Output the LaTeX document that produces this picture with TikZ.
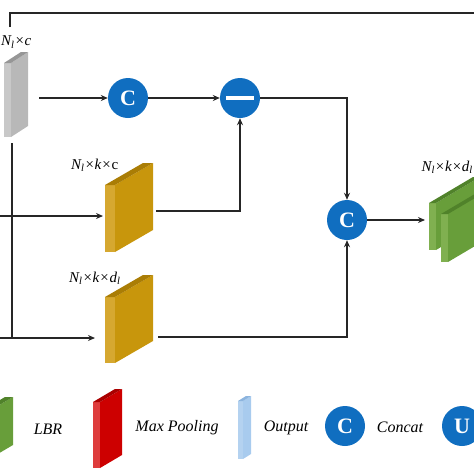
\documentclass[tikz,border=0pt]{standalone}
\usepackage{fontspec}
\setmainfont{Liberation Serif}
\usetikzlibrary{arrows.meta}
\definecolor{opblue}{RGB}{16,110,192}
\definecolor{ystrip}{RGB}{214,168,48}
\definecolor{yface}{RGB}{200,150,12}
\definecolor{ytop}{RGB}{170,125,5}
\definecolor{gstrip}{RGB}{128,176,80}
\definecolor{gface}{RGB}{104,158,58}
\definecolor{gtop}{RGB}{80,130,42}
\definecolor{grstrip}{RGB}{200,200,200}
\definecolor{grface}{RGB}{184,184,184}
\definecolor{grtop}{RGB}{150,150,150}
\definecolor{rstrip}{RGB}{222,60,60}
\definecolor{rface}{RGB}{205,0,0}
\definecolor{rtop}{RGB}{170,0,0}
\definecolor{bstrip}{RGB}{180,210,240}
\definecolor{bface}{RGB}{168,203,238}
\definecolor{btop}{RGB}{140,180,222}
\newcommand\myslab[9]{%
  \fill[#7] (#1,#2) rectangle ({#1+#4},#3);
  \fill[#8] ({#1+#4},#2) -- ({#1+#4+#5},{#2-#6}) -- ({#1+#4+#5},{#3-#6}) -- ({#1+#4},#3) -- cycle;
  \fill[#9] (#1,#2) -- ({#1+#5},{#2-#6}) -- ({#1+#4+#5},{#2-#6}) -- ({#1+#4},#2) -- cycle;
}
\tikzset{
  op/.style={circle,fill=opblue,minimum size=40pt,inner sep=0pt,text=white,font=\bfseries\fontsize{22}{22}\selectfont},
  conn/.style={line width=1.4pt,draw=black!85},
  arr/.style={conn,-{Stealth[length=7pt,width=6pt]}},
  dimlbl/.style={font=\itshape\fontsize{15}{15}\selectfont,inner sep=0pt},
  leglbl/.style={font=\itshape\fontsize{16}{16}\selectfont,inner sep=0pt},
  box/.style={inner sep=0pt,minimum width=0pt,minimum height=0pt}
}
\begin{document}
\begin{tikzpicture}[x=1pt,y=-1pt]
\useasboundingbox (0,0) rectangle (474,474);
% blocks
\myslab{4}{63}{137}{7}{17}{11}{grstrip}{grface}{grtop}
\myslab{105}{185}{252}{10}{38}{22}{ystrip}{yface}{ytop}
\myslab{105}{297}{363}{10}{38}{22}{ystrip}{yface}{ytop}
\myslab{429}{203}{250}{7}{44}{26}{gstrip}{gface}{gtop}
\myslab{441}{214}{262}{7}{44}{26}{gstrip}{gface}{gtop}
% anchor nodes for blocks
\node[box,minimum width=24pt,minimum height=85pt] (gray) at (16,95) {};
\node[box,minimum width=48pt,minimum height=89pt] (y1) at (129,207) {};
\node[box,minimum width=48pt,minimum height=89pt] (y2) at (129,319) {};
\node[box,minimum width=45pt,minimum height=60pt] (g) at (451,232) {};
% labels
\node[dimlbl,anchor=west] (lgray) at (1,42) {N\textsubscript{\textit{l}}×c};
\node[dimlbl,anchor=west] (ly1) at (71,165) {N\textsubscript{\textit{l}}×k×\upshape c};
\node[dimlbl,anchor=west] (ly2) at (69,278) {N\textsubscript{\textit{l}}×k×d\textsubscript{\textit{l}}};
\node[dimlbl,anchor=east] (lg) at (473,167) {N\textsubscript{\textit{l}}×k×d\textsubscript{\textit{l}}};
% operators
\node[op] (c1) at (128,98) {C};
\node[op] (minus) at (240,98) {};
\fill[white] (226,96) rectangle (254,100);
\node[op] (c2) at (347,220) {C};
% free ends
\coordinate (topL) at (10,27);
\coordinate (topR) at (474,13);
\coordinate (in1) at (0,216);
\coordinate (in2) at (0,338);
% connectors
\draw[conn] (topL) -- (10,13) -- (topR);
\draw[arr] (39,98) -- (c1);
\draw[arr] (c1) -- (minus);
\draw[conn] (12,143) -- (12,338);
\draw[arr] (in1) -- (103,216);
\draw[arr] (in2) -- (95,338);
\draw[arr] (156,211) -| (minus);
\draw[arr] (minus) -| (c2);
\draw[arr] (158,337) -| (c2);
\draw[arr] (c2) -- (425,220);
% legend
\myslab{-12}{407}{455}{8}{17}{10}{gstrip}{gface}{gtop}
\node[leglbl] (tlbr) at (48,429) {LBR};
\myslab{93}{402}{468}{7}{22}{13}{rstrip}{rface}{rtop}
\node[leglbl] (tmp) at (177,428) {Max Pooling};
\myslab{238}{401}{459}{5}{8}{5}{bstrip}{bface}{btop}
\node[leglbl] (tout) at (286,428) {Output};
\node[op] (lc) at (345,426) {C};
\node[leglbl] (tcon) at (400,427) {Concat};
\node[op] (lu) at (462,426) {U};
\end{tikzpicture}
\end{document}
